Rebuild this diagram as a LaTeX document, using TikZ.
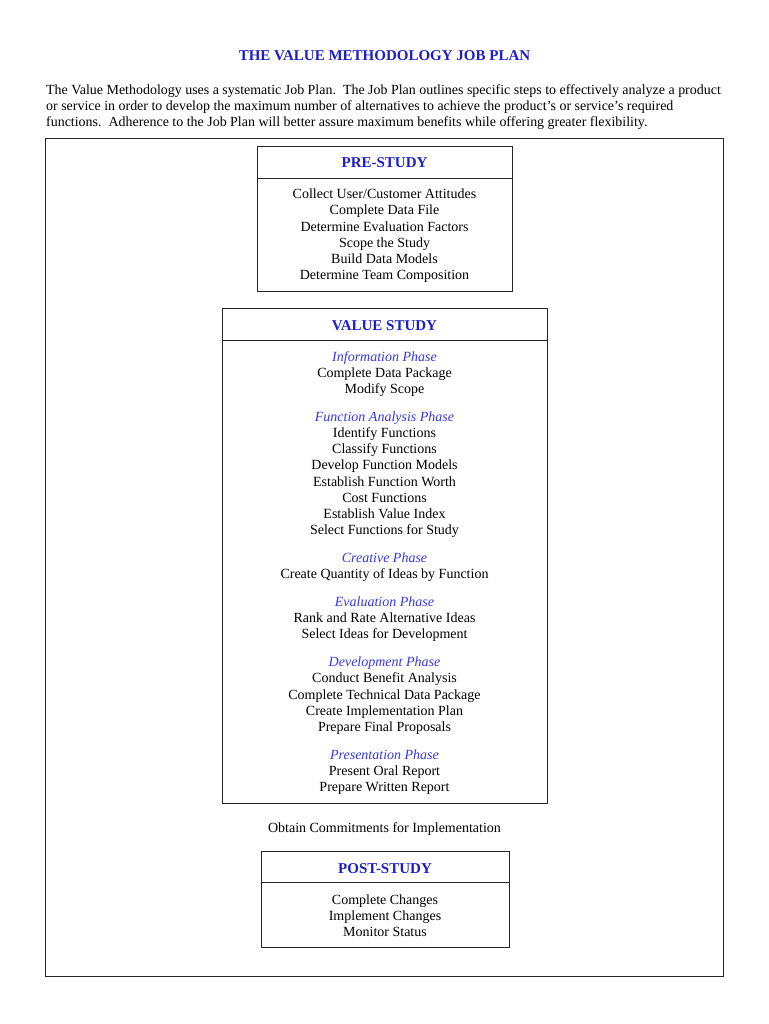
\documentclass[tikz,border=0pt]{standalone}
\usepackage{fontspec}
\setmainfont{Liberation Serif}
\usetikzlibrary{positioning}

\definecolor{vmblue}{RGB}{30,30,200}
\definecolor{phaseblue}{RGB}{55,55,230}

\tikzset{
	stagebox/.style={draw=black!85, line width=0.9pt, inner sep=0pt},
	stagehead/.style={font=\fontsize{15}{16}\selectfont\bfseries, text=vmblue, inner sep=0pt, text height=12pt, text depth=0pt},
	item/.style={font=\fontsize{14}{16}\selectfont, inner sep=0pt, text height=12pt, text depth=1pt},
	phase/.style={item, font=\fontsize{14}{16}\selectfont\itshape, text=phaseblue}
}

\begin{document}
\begin{tikzpicture}[x=1pt, y=-1pt]
	\useasboundingbox (0,0) rectangle (768,1024);

	% title and intro
	\node[stagehead] (title) at (384.5,55) {THE VALUE METHODOLOGY JOB PLAN};
	\node[item, anchor=west, font=\fontsize{13.95}{16}\selectfont] (intro1) at (46,89) {The Value Methodology uses a systematic Job Plan.\ \ The Job Plan outlines specific steps to effectively analyze a product};
	\node[item, anchor=west, font=\fontsize{13.95}{16}\selectfont] (intro2) at (46,105) {or service in order to develop the maximum number of alternatives to achieve the product’s or service’s required};
	\node[item, anchor=west, font=\fontsize{13.95}{16}\selectfont] (intro3) at (46,121) {functions.\ \ Adherence to the Job Plan will better assure maximum benefits while offering greater flexibility.};

	\node[stagebox, minimum width=678, minimum height=838] (frame) at (384,557) {};

	% pre-study
	\node[stagebox, minimum width=255, minimum height=145] (pre) at (384.5,218.5) {};
	\draw[black!85, line width=0.9pt] ([yshift=-33pt]pre.north west) -- ([yshift=-33pt]pre.north east);
	\node[stagehead] (prehead) at (384.5,162) {PRE-STUDY};
	\foreach \txt [count=\i] in {Collect User/Customer Attitudes, Complete Data File, Determine Evaluation Factors, Scope the Study, Build Data Models, Determine Team Composition}
		\node[item] (pre-\i) at (384.5,177+16.2*\i) {\txt};

	% value study
	\node[stagebox, minimum width=325, minimum height=495] (value) at (384.5,555.5) {};
	\draw[black!85, line width=0.9pt] ([yshift=-33pt]value.north west) -- ([yshift=-33pt]value.north east);
	\node[stagehead] (valuehead) at (384.5,324) {VALUE STUDY};
	\foreach \y/\s/\txt [count=\i] in {
		356/phase/Information Phase, 372/item/Complete Data Package, 388/item/Modify Scope,
		416/phase/Function Analysis Phase, 432/item/Identify Functions, 448/item/Classify Functions,
		464/item/Develop Function Models, 481/item/Establish Function Worth, 497/item/Cost Functions,
		513/item/Establish Value Index, 529/item/Select Functions for Study,
		557/phase/Creative Phase, 573/item/Create Quantity of Ideas by Function,
		601/phase/Evaluation Phase, 617/item/Rank and Rate Alternative Ideas, 633/item/Select Ideas for Development,
		661/phase/Development Phase, 677/item/Conduct Benefit Analysis, 694/item/Complete Technical Data Package,
		710/item/Create Implementation Plan, 726/item/Prepare Final Proposals,
		754/phase/Presentation Phase, 770/item/Present Oral Report, 786/item/Prepare Written Report}
		\node[\s] (vs-\i) at (384.5,\y) {\txt};

	\node[item] (commit) at (384.5,827) {Obtain Commitments for Implementation};

	% post-study
	\node[stagebox, minimum width=248, minimum height=96] (post) at (385,899) {};
	\draw[black!85, line width=0.9pt] ([yshift=-32pt]post.north west) -- ([yshift=-32pt]post.north east);
	\node[stagehead] (posthead) at (385,867) {POST-STUDY};
	\foreach \txt [count=\i] in {Complete Changes, Implement Changes, Monitor Status}
		\node[item] (post-\i) at (385,883+16*\i) {\txt};
\end{tikzpicture}
\end{document}
